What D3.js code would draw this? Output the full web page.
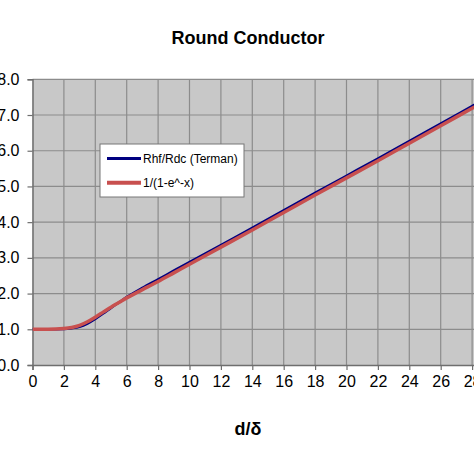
<!DOCTYPE html>
<html><head><meta charset="utf-8">
<script src="https://cdn.jsdelivr.net/npm/d3@7"></script>
<style>body{margin:0;background:#fff}svg{display:block}</style>
</head><body>
<script>
const xValues = [0,1,2,2.5,3,3.5,4,4.5,5,5.5,6,7,8,9,10,12,14,16,18,20,22,24,26,28,30];
const termanValues = [1.00,1.00,1.01,1.03,1.07,1.16,1.29,1.44,1.60,1.75,1.90,2.16,2.40,2.64,2.88,3.36,3.84,4.33,4.82,5.30,5.78,6.27,6.76,7.25,7.74];
const expValues = [1.00,1.00,1.02,1.05,1.11,1.21,1.34,1.48,1.62,1.75,1.88,2.11,2.34,2.58,2.82,3.30,3.78,4.27,4.76,5.24,5.72,6.21,6.70,7.19,7.68];
const xTicks = [0,2,4,6,8,10,12,14,16,18,20,22,24,26,28];
const yTicks = [0,1,2,3,4,5,6,7,8];
const seriesNames = ["Rhf/Rdc (Terman)", "1/(1-e^-x)"];
const title = "Round Conductor";
const xTitle = "d/\u03b4";

const W = 474, H = 474;
const svg = d3.select("body").append("svg").attr("width", W).attr("height", H);
const x = d3.scaleLinear().domain([0, 30]).range([32.5, 503.5]);
const y = d3.scaleLinear().domain([0, 8]).range([365, 79.3]);

// plot background
svg.append("rect").attr("x", x(0)).attr("y", y(8)).attr("width", x(30) - x(0)).attr("height", y(0) - y(8)).attr("fill", "#c8c8c8");

// gridlines
const g = svg.append("g");
g.selectAll(".vg").data(xTicks.filter(d => d > 0)).join("line")
  .attr("x1", d => x(d)).attr("x2", d => x(d)).attr("y1", y(0)).attr("y2", y(8))
  .attr("stroke", "#8c8c8c").attr("stroke-width", 1.2);
g.selectAll(".hg").data(yTicks.filter(d => d > 0)).join("line")
  .attr("x1", x(0)).attr("x2", x(30)).attr("y1", d => y(d)).attr("y2", d => y(d))
  .attr("stroke", "#8c8c8c").attr("stroke-width", 1.2);

// axes
const xAxis = d3.axisBottom(x).tickValues(xTicks).tickSize(5).tickPadding(6).tickFormat(d3.format("d"));
const yAxis = d3.axisLeft(y).tickValues(yTicks).tickSize(5).tickPadding(8).tickFormat(d3.format(".1f"));
const ax = svg.append("g").attr("transform", `translate(0,${y(0)})`).call(xAxis);
const ay = svg.append("g").attr("transform", `translate(${x(0)},0)`).call(yAxis);
[ax, ay].forEach(a => {
  a.select(".domain").attr("stroke", "#6e6e6e").attr("stroke-width", 1.5);
  a.selectAll(".tick line").attr("stroke", "#6e6e6e").attr("stroke-width", 1.2);
  a.selectAll(".tick text").attr("font-family", "Liberation Sans, Arial, sans-serif").attr("font-size", 16).attr("fill", "#000");
});

// lines
const line = d3.line().x(d => x(d[0])).y(d => y(d[1])).curve(d3.curveMonotoneX);
svg.append("clipPath").attr("id", "c").append("rect").attr("x", x(0)).attr("y", y(8) - 5).attr("width", x(30) - x(0)).attr("height", y(0) - y(8) + 10);
svg.append("path").datum(xValues.map((v, i) => [v, termanValues[i]]))
  .attr("d", line).attr("fill", "none").attr("stroke", "#000080").attr("stroke-width", 2.5).attr("clip-path", "url(#c)");
svg.append("path").datum(xValues.map((v, i) => [v, expValues[i]]))
  .attr("d", line).attr("fill", "none").attr("stroke", "#c8504f").attr("stroke-width", 3.5).attr("clip-path", "url(#c)");

// legend
const lg = svg.append("g");
lg.append("rect").attr("x", 100).attr("y", 144).attr("width", 144).attr("height", 53)
  .attr("fill", "#fff").attr("stroke", "#777").attr("stroke-width", 1);
const legendColors = ["#000080", "#c8504f"];
const legendWidths = [3, 4];
seriesNames.forEach((n, i) => {
  const yy = 158.5 + i * 24.3;
  lg.append("line").attr("x1", 107).attr("x2", 141).attr("y1", yy).attr("y2", yy)
    .attr("stroke", legendColors[i]).attr("stroke-width", legendWidths[i]);
  lg.append("text").attr("x", 143).attr("y", yy).attr("dy", "0.35em")
    .attr("font-family", "Liberation Sans, Arial, sans-serif").attr("font-size", 12).text(n);
});

// titles
svg.append("text").attr("x", 248).attr("y", 43.5).attr("text-anchor", "middle")
  .attr("font-family", "Liberation Sans, Arial, sans-serif").attr("font-weight", "bold").attr("font-size", 18).text(title);
svg.append("text").attr("x", 248).attr("y", 435).attr("text-anchor", "middle")
  .attr("font-family", "Liberation Sans, Arial, sans-serif").attr("font-weight", "bold").attr("font-size", 18).text(xTitle);
</script>
</body></html>
